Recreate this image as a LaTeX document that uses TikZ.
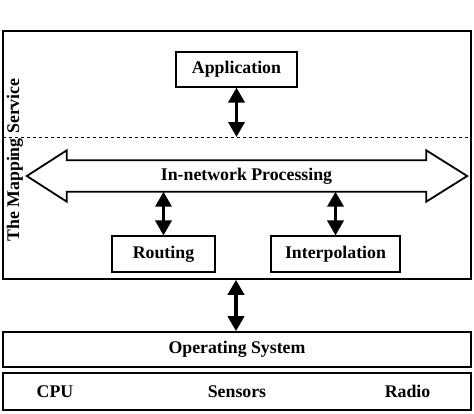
\documentclass[tikz,border=0pt]{standalone}
\usepackage{fontspec}
\setmainfont{Liberation Serif}
\usetikzlibrary{arrows.meta}
\begin{document}
\begin{tikzpicture}[x=1pt,y=-1pt,
  lbl/.style={font=\fontsize{17.8}{20}\selectfont\bfseries},
  frame/.style={draw,line width=1.6pt,inner sep=0pt},
  box/.style={draw,line width=1.1pt,inner sep=0pt,lbl},
  dbl/.style={line width=3.6pt,{Triangle[width=16pt,length=15pt]}-{Triangle[width=16pt,length=15pt]}},
  bigarrow/.style={draw,line width=1.8pt,line join=miter}
]
\useasboundingbox (0,0) rectangle (474,413);
% mapping service frame
\node[frame,minimum width=468pt,minimum height=248pt] (ms) at (237,155) {};
\coordinate (dl) at (3,137);
\coordinate (dr) at (471,137);
\draw[dashed,line width=0.8pt] (dl) -- (dr);
\node[lbl,rotate=90] (mst) at (15,160) {The Mapping Service};
% application
\node[box,minimum width=121pt,minimum height=35pt] (app) at (236.5,69.5) {Application};
\draw[dbl] (app.south) -- (app.south |- dl);
% in-network processing
\node[lbl,inner sep=0pt,minimum width=359pt,minimum height=31pt] (inp) at (246.5,176) {In-network Processing};
\draw[bigarrow] (inp.north west) -- (inp.north east) -- ([yshift=10pt]inp.north east)
  -- ([xshift=41pt]inp.east) -- ([yshift=-10pt]inp.south east) -- (inp.south east)
  -- (inp.south west) -- ([yshift=-10pt]inp.south west) -- ([xshift=-40pt]inp.west)
  -- ([yshift=10pt]inp.north west) -- cycle;
% routing, interpolation
\node[box,minimum width=103pt,minimum height=36pt] (rt) at (163.5,254) {Routing};
\node[box,minimum width=129pt,minimum height=36pt] (ip) at (335.5,254) {Interpolation};
\draw[dbl] (rt.north) -- (rt.north |- inp.south);
\draw[dbl] (ip.north) -- (ip.north |- inp.south);
% operating system
\node[frame,lbl,minimum width=468pt,minimum height=35pt] (os) at (237,349.5) {Operating System};
\draw[dbl] ([xshift=-1pt]ms.south) -- ([xshift=-1pt]os.north);
% hardware
\node[frame,minimum width=468pt,minimum height=37pt] (hw) at (237,391.5) {};
\node[lbl] (cpu) at (55,391.5) {CPU};
\node[lbl] (sen) at (237,391.5) {Sensors};
\node[lbl] (rad) at (407.5,391.5) {Radio};
\end{tikzpicture}
\end{document}
